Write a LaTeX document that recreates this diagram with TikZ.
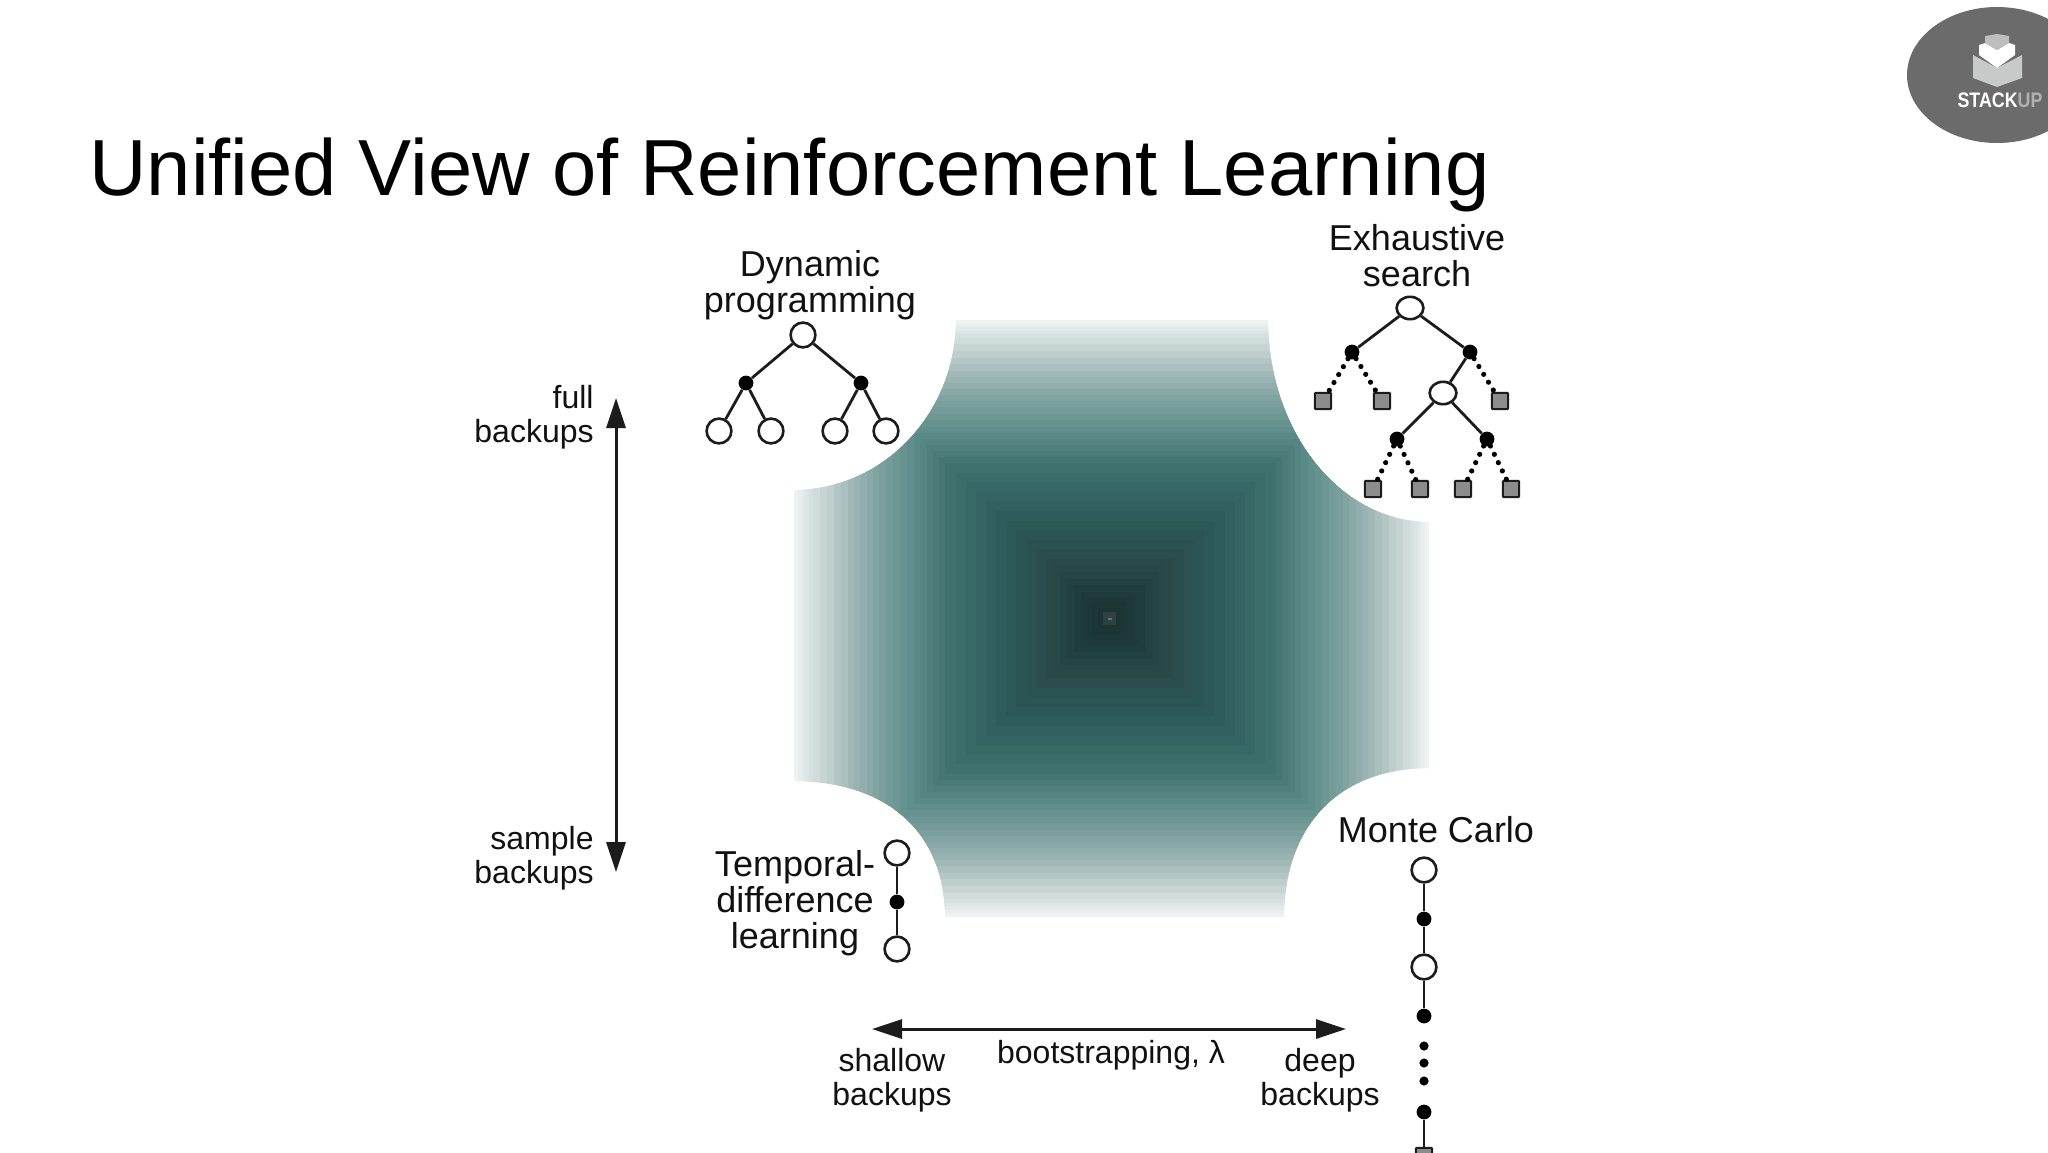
\documentclass[tikz,border=0pt]{standalone}
\usepackage{fontspec}
\usepackage{graphicx}
\setmainfont{Liberation Sans}
\usetikzlibrary{arrows.meta,shapes.geometric}
\definecolor{txt}{HTML}{111111}
\definecolor{ln}{HTML}{1C1C1C}
\definecolor{sqf}{HTML}{8C8C8C}
\definecolor{logobg}{HTML}{6B6B6B}
\definecolor{logoa}{HTML}{C8CACA}
\definecolor{logob}{HTML}{BEBEBE}
\definecolor{logoc}{HTML}{B0B0B0}
\definecolor{cena}{HTML}{2E4042}
\definecolor{cenb}{HTML}{667078}
\definecolor{sa}{HTML}{EEF2F3}
\definecolor{sb}{HTML}{D0DCDC}
\definecolor{sc}{HTML}{A0B8B6}
\definecolor{sd}{HTML}{7A9F9C}
\definecolor{se}{HTML}{5A8A88}
\definecolor{sf}{HTML}{3F716F}
\definecolor{sg}{HTML}{2C5C5C}
\definecolor{sh}{HTML}{2A4A4A}
\definecolor{si}{HTML}{1E3A3A}
\definecolor{sj}{HTML}{182E2E}
\tikzset{
  lab/.style={font=\fontsize{18}{18}\selectfont,align=center,inner sep=0pt,text=txt},
  labs/.style={font=\fontsize{16}{16.6}\selectfont,align=center,inner sep=0pt,text=txt},
  open/.style={circle,draw=ln,fill=white,line width=1.3pt,minimum size=12.4pt,inner sep=0pt},
  openw/.style={ellipse,draw=ln,fill=white,line width=1.3pt,minimum width=13.4pt,minimum height=11.2pt,inner sep=0pt},
  act/.style={circle,fill=black,minimum size=7.4pt,inner sep=0pt},
  tinydot/.style={circle,fill=black,minimum size=4.6pt,inner sep=0pt},
  term/.style={rectangle,draw=ln,fill=sqf,line width=1pt,minimum size=8.2pt,inner sep=0pt,rounded corners=0.5pt},
  edge/.style={draw=ln,line width=1.4pt},
  dots/.style={draw=black,line width=2.6pt,line cap=round,dash pattern=on 0pt off 4.6pt},
  axis/.style={draw=ln,line width=1.5pt,{Triangle[length=15pt,width=9.5pt]}-{Triangle[length=15pt,width=9.5pt]}}
}
\begin{document}
\begin{tikzpicture}[x=0.5pt,y=-0.5pt]
\useasboundingbox (0,0) rectangle (2048,1152);
\fill[white] (0,0) rectangle (2048,1152);

% pyramid of nested rectangles
\begin{scope}
\clip (956,320) -- (1268,320)
  .. controls (1268,432) and (1340,522) .. (1429,522)
  -- (1429,768)
  .. controls (1339,768) and (1284,825) .. (1284,917)
  -- (945,917)
  .. controls (945,833) and (888,781) .. (794,781)
  -- (794,490)
  .. controls (883,490) and (956,414) .. (956,320) -- cycle;
\foreach \ta/\tb/\ca/\cb in {0/.06/sa/sb,.06/.17/sb/sc,.17/.27/sc/sd,.27/.38/sd/se,.38/.48/se/sf,.48/.64/sf/sg,.64/.8/sg/sh,.8/.91/sh/si,.91/1/si/sj}{
  \foreach \k in {0,...,4}{
    \pgfmathsetmacro\tt{\ta+(\tb-\ta)*\k/5}
    \pgfmathsetmacro\mm{100-20*\k}
    \fill[\ca!\mm!\cb] ({794+\tt*315.5},{320+\tt*298.5}) rectangle ({1429-\tt*319.5},{917-\tt*298.5});
  }
}
\fill[cena] (1103,612) rectangle (1116,625);
\fill[cenb] (1108,618) rectangle (1112,620);
\end{scope}

% title
\node[anchor=base west,inner sep=0pt,font=\fontsize{39.77}{42}\selectfont,text=black] (title) at (89,195) {Unified View of Reinforcement Learning};

% logo
\fill[logobg] (1997,75) ellipse [x radius=90,y radius=68];
\fill[logoa] (1973,55) -- (1997,68) -- (2022,55) -- (2022,78) -- (1997,87) -- (1973,78) -- cycle;
\fill[white] (1979,45) -- (1985,43) -- (1997,50) -- (2009,43) -- (2015,45) -- (2015,55) -- (1997,68) -- (1979,55) -- cycle;
\fill[logob] (1985,36) -- (1997,34) -- (2009,36) -- (2009,43) -- (1997,50) -- (1985,43) -- cycle;
\node[anchor=base,inner sep=0pt,font=\bfseries\fontsize{10.5}{11}\selectfont] (logotext) at (2000,107) {\scalebox{.85}[1]{\textcolor{white}{STACK}\textcolor{logoc}{UP}}};

% dynamic programming
\node[lab,anchor=base] (dptext) at (810,312) {Dynamic\\programming};
\node[open] (dr) at (803,335) {};
\node[act] (da) at (746,383) {};
\node[act] (db) at (861,383) {};
\node[open] (d1) at (719,431) {};
\node[open] (d2) at (771,431) {};
\node[open] (d3) at (835,431) {};
\node[open] (d4) at (886,431) {};
\draw[edge] (dr) -- (da);
\draw[edge] (dr) -- (db);
\draw[edge] (da) -- (d1);
\draw[edge] (da) -- (d2);
\draw[edge] (db) -- (d3);
\draw[edge] (db) -- (d4);

% exhaustive search
\node[lab,anchor=base] (extext) at (1417,286) {Exhaustive\\search};
\node[openw] (er) at (1410,308) {};
\node[act] (ea) at (1352,352) {};
\node[act] (eb) at (1470,352) {};
\node[term] (s1) at (1323,401) {};
\node[term] (s2) at (1382,401) {};
\node[term] (s3) at (1500,401) {};
\node[openw] (em) at (1443,393) {};
\node[act] (ec) at (1397,439) {};
\node[act] (ed) at (1487,439) {};
\node[term] (s4) at (1373,489) {};
\node[term] (s5) at (1420,489) {};
\node[term] (s6) at (1463,489) {};
\node[term] (s7) at (1511,489) {};
\draw[edge] (er) -- (ea);
\draw[edge] (er) -- (eb);
\draw[edge] (eb) -- (em);
\draw[edge] (em) -- (ec);
\draw[edge] (em) -- (ed);
\draw[dots] (ea) -- (s1);
\draw[dots] (ea) -- (s2);
\draw[dots] (eb) -- (s3);
\draw[dots] (ec) -- (s4);
\draw[dots] (ec) -- (s5);
\draw[dots] (ed) -- (s6);
\draw[dots] (ed) -- (s7);

% temporal difference
\node[lab,anchor=base] (tdtext) at (795,948) {Temporal-\\difference\\learning};
\node[open] (t1) at (897,853) {};
\node[act] (t2) at (897,902) {};
\node[open] (t3) at (897,949) {};
\draw[edge] (t1) -- (t2);
\draw[edge] (t2) -- (t3);

% monte carlo
\node[lab,anchor=base] (mctext) at (1436,842) {Monte Carlo};
\node[open] (m1) at (1424,870) {};
\node[act] (m2) at (1424,919) {};
\node[open] (m3) at (1424,967) {};
\node[act] (m4) at (1424,1016) {};
\node[tinydot] (p1) at (1424,1046) {};
\node[tinydot] (p2) at (1424,1063) {};
\node[tinydot] (p3) at (1424,1081) {};
\node[act] (m5) at (1424,1112) {};
\node[term] (m6) at (1424,1156) {};
\draw[edge] (m1) -- (m2);
\draw[edge] (m2) -- (m3);
\draw[edge] (m3) -- (m4);
\draw[edge] (m5) -- (m6);

% vertical axis
\coordinate (vt) at (616,398);
\coordinate (vb) at (616,872);
\draw[axis] (vb) -- (vt);
\node[labs,anchor=base east,align=right] (full) at (594,442) {full\\backups};
\node[labs,anchor=base east,align=right] (samp) at (594,883) {sample\\backups};

% horizontal axis
\coordinate (hl) at (872,1029);
\coordinate (hr) at (1346,1029);
\draw[axis] (hl) -- (hr);
\node[labs,anchor=base] (boot) at (1111,1063) {bootstrapping, λ};
\node[labs,anchor=base] (shal) at (892,1105) {shallow\\backups};
\node[labs,anchor=base] (deep) at (1320,1105) {deep\\backups};
\end{tikzpicture}
\end{document}
